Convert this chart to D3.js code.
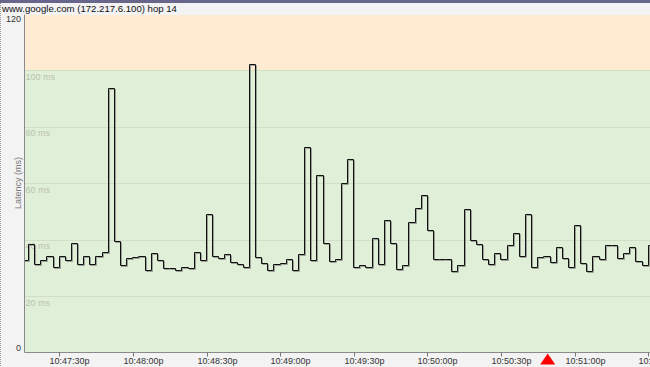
<!DOCTYPE html>
<html>
<head>
<meta charset="utf-8">
<script src="https://cdn.jsdelivr.net/npm/d3@7"></script>
<style>
body { margin: 0; background: #f3f3f3; overflow: hidden; }
svg { display: block; font-family: "Liberation Sans", Arial, sans-serif; }
</style>
</head>
<body>
<div id="chart"></div>
<script>
// textes
const title = "www.google.com (172.217.6.100) hop 14";
const yTitle = "Latency (ms)";

// échantillons : un toutes les 2,5 s à partir de 10:47:14.75p
const firstSample = new Date(2020, 0, 1, 22, 47, 14, 750);
const sampleStepMs = 2500;
const latency = [
  32.7, 38.5, 31.4, 32.7, 34.1, 30.2, 34.1, 32.9, 38.8, 31.4,
  34.1, 31.4, 34.1, 35.6, 93.7, 39.4, 30.8, 33.5, 33.8, 34.1,
  29.2, 35.3, 32.7, 29.8, 29.8, 29.1, 30.1, 29.8, 35.6, 32.6,
  49.2, 34.1, 33.5, 34.9, 32.2, 31.2, 30.2, 102.3, 33.9, 31.8,
  29.2, 31.2, 31.8, 33.2, 29.2, 34.7, 72.6, 32.7, 62.8, 38.8,
  32.3, 33.2, 60.0, 68.6, 30.2, 30.9, 30.2, 40.6, 31.2, 46.9,
  38.7, 29.7, 30.8, 46.1, 51.0, 55.9, 43.2, 33.2, 33.2, 33.2,
  28.8, 30.9, 50.8, 40.0, 38.3, 33.2, 31.2, 35.3, 33.2, 38.0,
  42.2, 34.1, 49.1, 30.1, 33.7, 34.1, 32.2, 37.3, 33.3, 30.1,
  45.2, 31.8, 29.0, 34.1, 33.2, 38.1, 38.1, 33.4, 35.2, 37.3,
  32.4, 30.9, 38.0
];

// fenêtre de temps visible et repère rouge
const timeStart = new Date(2020, 0, 1, 22, 47, 15, 820);
const timeEnd = new Date(2020, 0, 1, 22, 51, 30, 690);
const focusTime = new Date(2020, 0, 1, 22, 50, 49, 0);

// axe y
const yMax = 120;
const warnLevel = 100;
const gridValues = [20, 40, 60, 80, 100];

const samples = latency.map((v, i) => ({
  t: new Date(+firstSample + i * sampleStepMs),
  v: v
}));
// pour que la dernière marche soit dessinée
samples.push({ t: new Date(+samples[samples.length - 1].t + sampleStepMs), v: latency[latency.length - 1] });

const width = 650;
const height = 367;
const plotLeft = 24.5, plotRight = 650, plotTop = 13.5, plotBottom = 352.5;

const x = d3.scaleTime().domain([timeStart, timeEnd]).range([plotLeft, plotRight]);
const y = d3.scaleLinear().domain([0, yMax]).range([plotBottom, plotTop]);

const svg = d3.create("svg")
  .attr("width", width)
  .attr("height", height)
  .attr("viewBox", [0, 0, width, height]);

svg.append("rect")
  .attr("width", width).attr("height", height)
  .attr("fill", "#f3f3f3");

svg.append("clipPath").attr("id", "plot")
  .append("rect")
  .attr("x", plotLeft).attr("y", plotTop)
  .attr("width", plotRight - plotLeft).attr("height", plotBottom - plotTop);

const plot = svg.append("g").attr("clip-path", "url(#plot)");

// zones de fond
plot.append("rect")
  .attr("x", plotLeft).attr("width", plotRight - plotLeft)
  .attr("y", y(yMax)).attr("height", y(warnLevel) - y(yMax))
  .attr("fill", "#feebd1");
plot.append("rect")
  .attr("x", plotLeft).attr("width", plotRight - plotLeft)
  .attr("y", y(warnLevel)).attr("height", y(0) - y(warnLevel))
  .attr("fill", "#e0efd7");

// lignes de grille + étiquettes internes
plot.append("g")
  .selectAll("line")
  .data(gridValues)
  .join("line")
  .attr("x1", plotLeft).attr("x2", plotRight)
  .attr("y1", d => Math.round(y(d)) + 0.5)
  .attr("y2", d => Math.round(y(d)) + 0.5)
  .attr("stroke", d => d === warnLevel ? "#cfe2c6" : "#d1dfc8");

plot.append("g")
  .selectAll("text")
  .data(gridValues)
  .join("text")
  .attr("x", plotLeft + 1)
  .attr("y", d => y(d) + 9.5)
  .attr("font-size", 9)
  .attr("fill", "#b8c2b2")
  .text(d => d + " ms");

// la courbe en marches
const line = d3.line()
  .curve(d3.curveStepAfter)
  .x(d => Math.round(x(d.t)) + 0.5)
  .y(d => Math.round(y(d.v)) + 0.5);

plot.append("path")
  .datum(samples)
  .attr("d", line)
  .attr("transform", "translate(1,1)")
  .attr("fill", "none")
  .attr("stroke", "#9aa096")
  .attr("stroke-width", 1);

plot.append("path")
  .datum(samples)
  .attr("d", line)
  .attr("fill", "none")
  .attr("stroke", "#111")
  .attr("stroke-width", 1);

// bandeau du haut et titre
svg.append("rect").attr("x", 0).attr("y", 0).attr("width", width).attr("height", 3).attr("fill", "#68678b");
svg.append("rect").attr("x", 0).attr("y", 3).attr("width", width).attr("height", 12).attr("fill", "#f3f3f3");
svg.append("text")
  .attr("x", 2).attr("y", 11.8)
  .attr("font-size", 9.6)
  .attr("fill", "#111")
  .text(title);

// bordure pointillée à gauche
svg.append("line")
  .attr("x1", 0.5).attr("x2", 0.5).attr("y1", 3).attr("y2", height)
  .attr("stroke", "#9a9a9a").attr("stroke-dasharray", "1,1");

// axes
svg.append("line")
  .attr("x1", plotLeft).attr("x2", plotLeft).attr("y1", plotTop + 1).attr("y2", plotBottom)
  .attr("stroke", "#8a8a8a");
svg.append("line")
  .attr("x1", plotLeft).attr("x2", plotRight).attr("y1", plotBottom).attr("y2", plotBottom)
  .attr("stroke", "#8a8a8a");

svg.append("text")
  .attr("x", 21).attr("y", y(yMax) + 8)
  .attr("text-anchor", "end").attr("font-size", 9).attr("fill", "#333")
  .text(yMax);
svg.append("text")
  .attr("x", 21).attr("y", y(0) - 2)
  .attr("text-anchor", "end").attr("font-size", 9).attr("fill", "#333")
  .text(0);

svg.append("text")
  .attr("transform", `translate(21,${y(60)}) rotate(-90)`)
  .attr("text-anchor", "middle")
  .attr("font-size", 9)
  .attr("fill", "#777")
  .text(yTitle);

const fmt = d3.timeFormat("%-I:%M:%S");
const ticks = x.ticks(d3.timeSecond.every(30));

const xt = svg.append("g").selectAll("g")
  .data(ticks)
  .join("g")
  .attr("transform", d => `translate(${Math.round(x(d)) + 0.5},0)`);
xt.append("line")
  .attr("y1", plotBottom).attr("y2", plotBottom + 4)
  .attr("stroke", "#777");
xt.append("text")
  .attr("x", -10).attr("y", 363.5)
  .attr("font-size", 9)
  .attr("fill", "#333")
  .text(d => fmt(d) + (d.getHours() < 12 ? "a" : "p"));

// repère rouge
const fx = x(focusTime);
svg.append("path")
  .attr("d", `M${fx},${plotBottom + 1}L${fx + 7.5},${plotBottom + 12}L${fx - 7.5},${plotBottom + 12}Z`)
  .attr("fill", "#ff0000");

d3.select("#chart").node().append(svg.node());
</script>
</body>
</html>
